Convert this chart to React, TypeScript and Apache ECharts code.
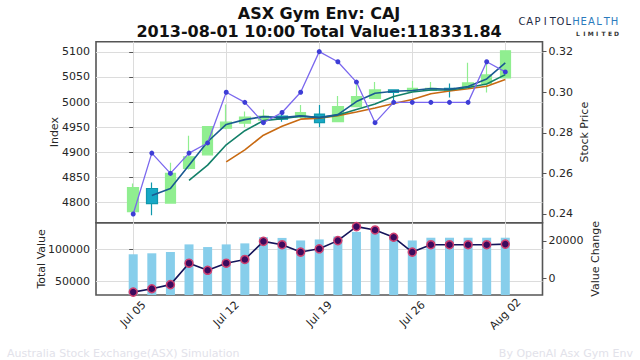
import React, { useEffect, useRef } from 'react';
import * as echarts from 'echarts';

// ---- data ----
const dates = ['Jul 05', 'Jul 08', 'Jul 09', 'Jul 10', 'Jul 11', 'Jul 12', 'Jul 15', 'Jul 16', 'Jul 17', 'Jul 18', 'Jul 19',
  'Jul 22', 'Jul 23', 'Jul 24', 'Jul 25', 'Jul 26', 'Jul 29', 'Jul 30', 'Jul 31', 'Aug 01', 'Aug 02'];
const xTickIdx = [0, 5, 10, 15, 20];

const openV = [4782, 4828, 4799, 4868, 4895, 4948, 4958, 4964, 4972, 4970, 4976, 4961, 4991, 5007, 5024, 5021, 5023, 5027, 5031, 5037, 5048];
const closeV = [4830, 4798, 4858, 4891, 4951, 4960, 4970, 4972, 4966, 4979, 4959, 4991, 5011, 5024, 5019, 5027, 5027, 5024, 5038, 5054, 5102];
const lowV = [4779, 4775, 4798, 4866, 4894, 4946, 4950, 4962, 4961, 4968, 4950, 4960, 4990, 5006, 4998, 5020, 5022, 5009, 5030, 5019, 5047];
const highV = [4838, 4840, 4879, 4933, 4952, 4995, 4981, 4985, 4981, 4994, 4994, 5012, 5035, 5040, 5025, 5042, 5040, 5037, 5078, 5077, 5103];

const stockPrice = [0.24, 0.27, 0.26, 0.27, 0.275, 0.30, 0.295, 0.285, 0.29, 0.30, 0.32, 0.315, 0.305, 0.285, 0.295, 0.295, 0.295, 0.295, 0.295, 0.315, 0.31];

const maShort = [null, 4814, 4828, 4874.5, 4921, 4955.5, 4965, 4971, 4969, 4972.5, 4969, 4975, 5001, 5017.5, 5021.5, 5023, 5027, 5025.5, 5031, 5046, 5078];
const maMid = [null, null, null, 4844, 4874.5, 4915, 4943, 4963, 4967, 4972, 4969, 4974, 4985, 4996, 5011, 5020, 5024, 5024, 5029, 5036, 5054.5];
const maLong = [null, null, null, null, null, 4881, 4905, 4934, 4952, 4966, 4968, 4973, 4980, 4988, 4997, 5005, 5016.5, 5022, 5026.5, 5031.5, 5045];

const totalValue = [92200, 93750, 95800, 107800, 103600, 107800, 109400, 119200, 118000, 114000, 115600, 120300, 127500, 126500, 120300, 114000, 118300, 118300, 118300, 118300, 118331.84];
const valueChange = [-7400, -5600, -3400, 8100, 4300, 8100, 10100, 19800, 18000, 14050, 15800, 20200, 27700, 25900, 22000, 14050, 18000, 18000, 18000, 18000, 18331.84];

const indexTicks = [4800, 4850, 4900, 4950, 5000, 5050, 5100];
const priceTicks = [0.24, 0.26, 0.28, 0.30, 0.32];
const totalTicks = [50000, 100000];
const changeTicks = [0, 20000];

const titleLines = ['ASX Gym Env: CAJ', '2013-08-01 10:00 Total Value:118331.84'];
const logoWord = 'CAPITOLHEALTH';
const logoSub = 'LIMITED';
const footLeft = 'Australia Stock Exchange(ASX) Simulation';
const footRight = 'By OpenAI Asx Gym Env';

const FONT = 'DejaVu Sans';
const GRID = '#dcdcdc';
const FRAME = '#555555';
const TXT = '#262626';

function pairs(arr: (number | null)[]) {
  return arr.map((v, i) => [i, v]);
}

export default function App() {
  const ref = useRef<HTMLDivElement>(null);
  useEffect(() => {
    if (!ref.current) return;
    const chart = echarts.init(ref.current, null, { renderer: 'svg' });

    const xBase = (gridIndex: number, withLabels: boolean) => ({
      type: 'value',
      gridIndex,
      min: -2,
      max: 22,
      axisLine: { show: false },
      axisTick: { show: withLabels, customValues: xTickIdx, length: 4, lineStyle: { color: FRAME } },
      axisLabel: {
        show: withLabels,
        customValues: xTickIdx,
        formatter: (v: number) => dates[Math.round(v)] ?? '',
        rotate: 45,
        align: 'center',
        verticalAlign: 'middle',
        margin: 19,
        fontFamily: FONT,
        fontSize: 11,
        color: TXT,
      },
      splitLine: { show: true, lineStyle: { color: GRID, width: 1 } },
    });

    const yBase = (gridIndex: number, position: string, min: number, max: number, ticks: number[], name: string, nameGap: number, grid: boolean, fmt?: (v: number) => string) => ({
      type: 'value',
      gridIndex,
      position,
      min,
      max,
      name,
      nameLocation: 'middle',
      nameRotate: 90,
      nameGap,
      nameMoveOverlap: false,
      nameTextStyle: { fontFamily: FONT, fontSize: 11, color: TXT },
      axisLine: { show: false },
      axisTick: { show: true, customValues: ticks, length: 4, lineStyle: { color: FRAME } },
      axisLabel: {
        customValues: ticks,
        formatter: fmt ?? ((v: number) => String(v)),
        fontFamily: FONT,
        fontSize: 11,
        color: TXT,
        margin: 6,
      },
      splitLine: { show: grid, lineStyle: { color: GRID, width: 1 } },
    });

    const logoEls: any[] = [];
    for (let i = 0; i < logoWord.length; i++) {
      logoEls.push({
        type: 'text',
        x: 522 + i * 7.7,
        y: 21,
        style: {
          text: logoWord[i],
          fontFamily: FONT,
          fontSize: 10,
          fill: i < 7 ? '#1f2a44' : '#2b7bbd',
          align: 'center',
          verticalAlign: 'middle',
        },
      });
    }
    for (let i = 0; i < logoSub.length; i++) {
      logoEls.push({
        type: 'text',
        x: 578 + i * 6.4,
        y: 33,
        style: {
          text: logoSub[i],
          fontFamily: FONT,
          fontSize: 6,
          fontWeight: 'bold',
          fill: '#333',
          align: 'center',
          verticalAlign: 'middle',
        },
      });
    }

    const option: any = {
      animation: false,
      backgroundColor: '#ffffff',
      title: {
        text: titleLines.join('\n'),
        left: 319,
        textAlign: 'center',
        top: 4,
        padding: 0,
        textStyle: { fontFamily: FONT, fontSize: 16, fontWeight: 'bold', color: '#111', lineHeight: 18.5 },
      },
      grid: [
        { left: 96, right: 97.5, top: 41.7, height: 181, show: true, borderColor: FRAME, borderWidth: 1.6, backgroundColor: 'transparent' },
        { left: 96, right: 97.5, top: 222.7, height: 72.3, show: true, borderColor: FRAME, borderWidth: 1.6, backgroundColor: 'transparent' },
      ],
      xAxis: [xBase(0, false), xBase(1, true)],
      yAxis: [
        yBase(0, 'left', 4760, 5120, indexTicks, 'Index', 36, true),
        yBase(0, 'right', 0.2357, 0.3249, priceTicks, 'Stock Price', 36, false, (v: number) => v.toFixed(2)),
        yBase(1, 'left', 28000, 142000, totalTicks, 'Total Value', 49, true),
        yBase(1, 'right', -8950, 29800, changeTicks, 'Value Change', 47, false),
      ],
      series: [
        {
          type: 'candlestick',
          xAxisIndex: 0,
          yAxisIndex: 0,
          barWidth: 11,
          encode: { x: 0, y: [1, 2, 3, 4] },
          data: dates.map((_, i) => [i, openV[i], closeV[i], lowV[i], highV[i]]),
          itemStyle: { color: '#90ee90', color0: '#17a8c6', borderColor: '#90ee90', borderColor0: '#0f98ad', borderWidth: 1.2 },
          z: 2,
        },
        {
          type: 'line', xAxisIndex: 0, yAxisIndex: 0, data: pairs(maLong), symbol: 'none',
          lineStyle: { color: '#c86a12', width: 1.6 }, z: 3,
        },
        {
          type: 'line', xAxisIndex: 0, yAxisIndex: 0, data: pairs(maMid), symbol: 'none',
          lineStyle: { color: '#138069', width: 1.6 }, z: 3,
        },
        {
          type: 'line', xAxisIndex: 0, yAxisIndex: 0, data: pairs(maShort), symbol: 'none',
          lineStyle: { color: '#1a5a92', width: 1.6 }, z: 3,
        },
        {
          type: 'line', xAxisIndex: 0, yAxisIndex: 1, data: pairs(stockPrice), symbol: 'circle', symbolSize: 5,
          lineStyle: { color: '#7b68ee', width: 1.3 }, itemStyle: { color: '#3d3dd6' }, z: 4,
        },
        {
          type: 'bar', xAxisIndex: 1, yAxisIndex: 2, data: pairs(totalValue), barWidth: 9,
          itemStyle: { color: '#87ceeb' }, z: 2,
        },
        {
          type: 'line', xAxisIndex: 1, yAxisIndex: 3, data: pairs(valueChange), symbol: 'circle', symbolSize: 8,
          lineStyle: { color: '#14145a', width: 1.6 },
          itemStyle: { color: '#3b0b5e', borderColor: '#d04070', borderWidth: 1.5 }, z: 4,
        },
      ],
      graphic: [
        ...logoEls,
        {
          type: 'text', x: 7, y: 353,
          style: { text: footLeft, fontFamily: FONT, fontSize: 11, fill: '#e2e2ea', align: 'left', verticalAlign: 'middle' },
        },
        {
          type: 'text', x: 633, y: 353,
          style: { text: footRight, fontFamily: FONT, fontSize: 11, fill: '#e2e2ea', align: 'right', verticalAlign: 'middle' },
        },
      ],
    };

    chart.setOption(option);
    return () => chart.dispose();
  }, []);

  return <div ref={ref} style={{ width: 640, height: 360, position: 'absolute', left: 0, top: 0 }} />;
}
